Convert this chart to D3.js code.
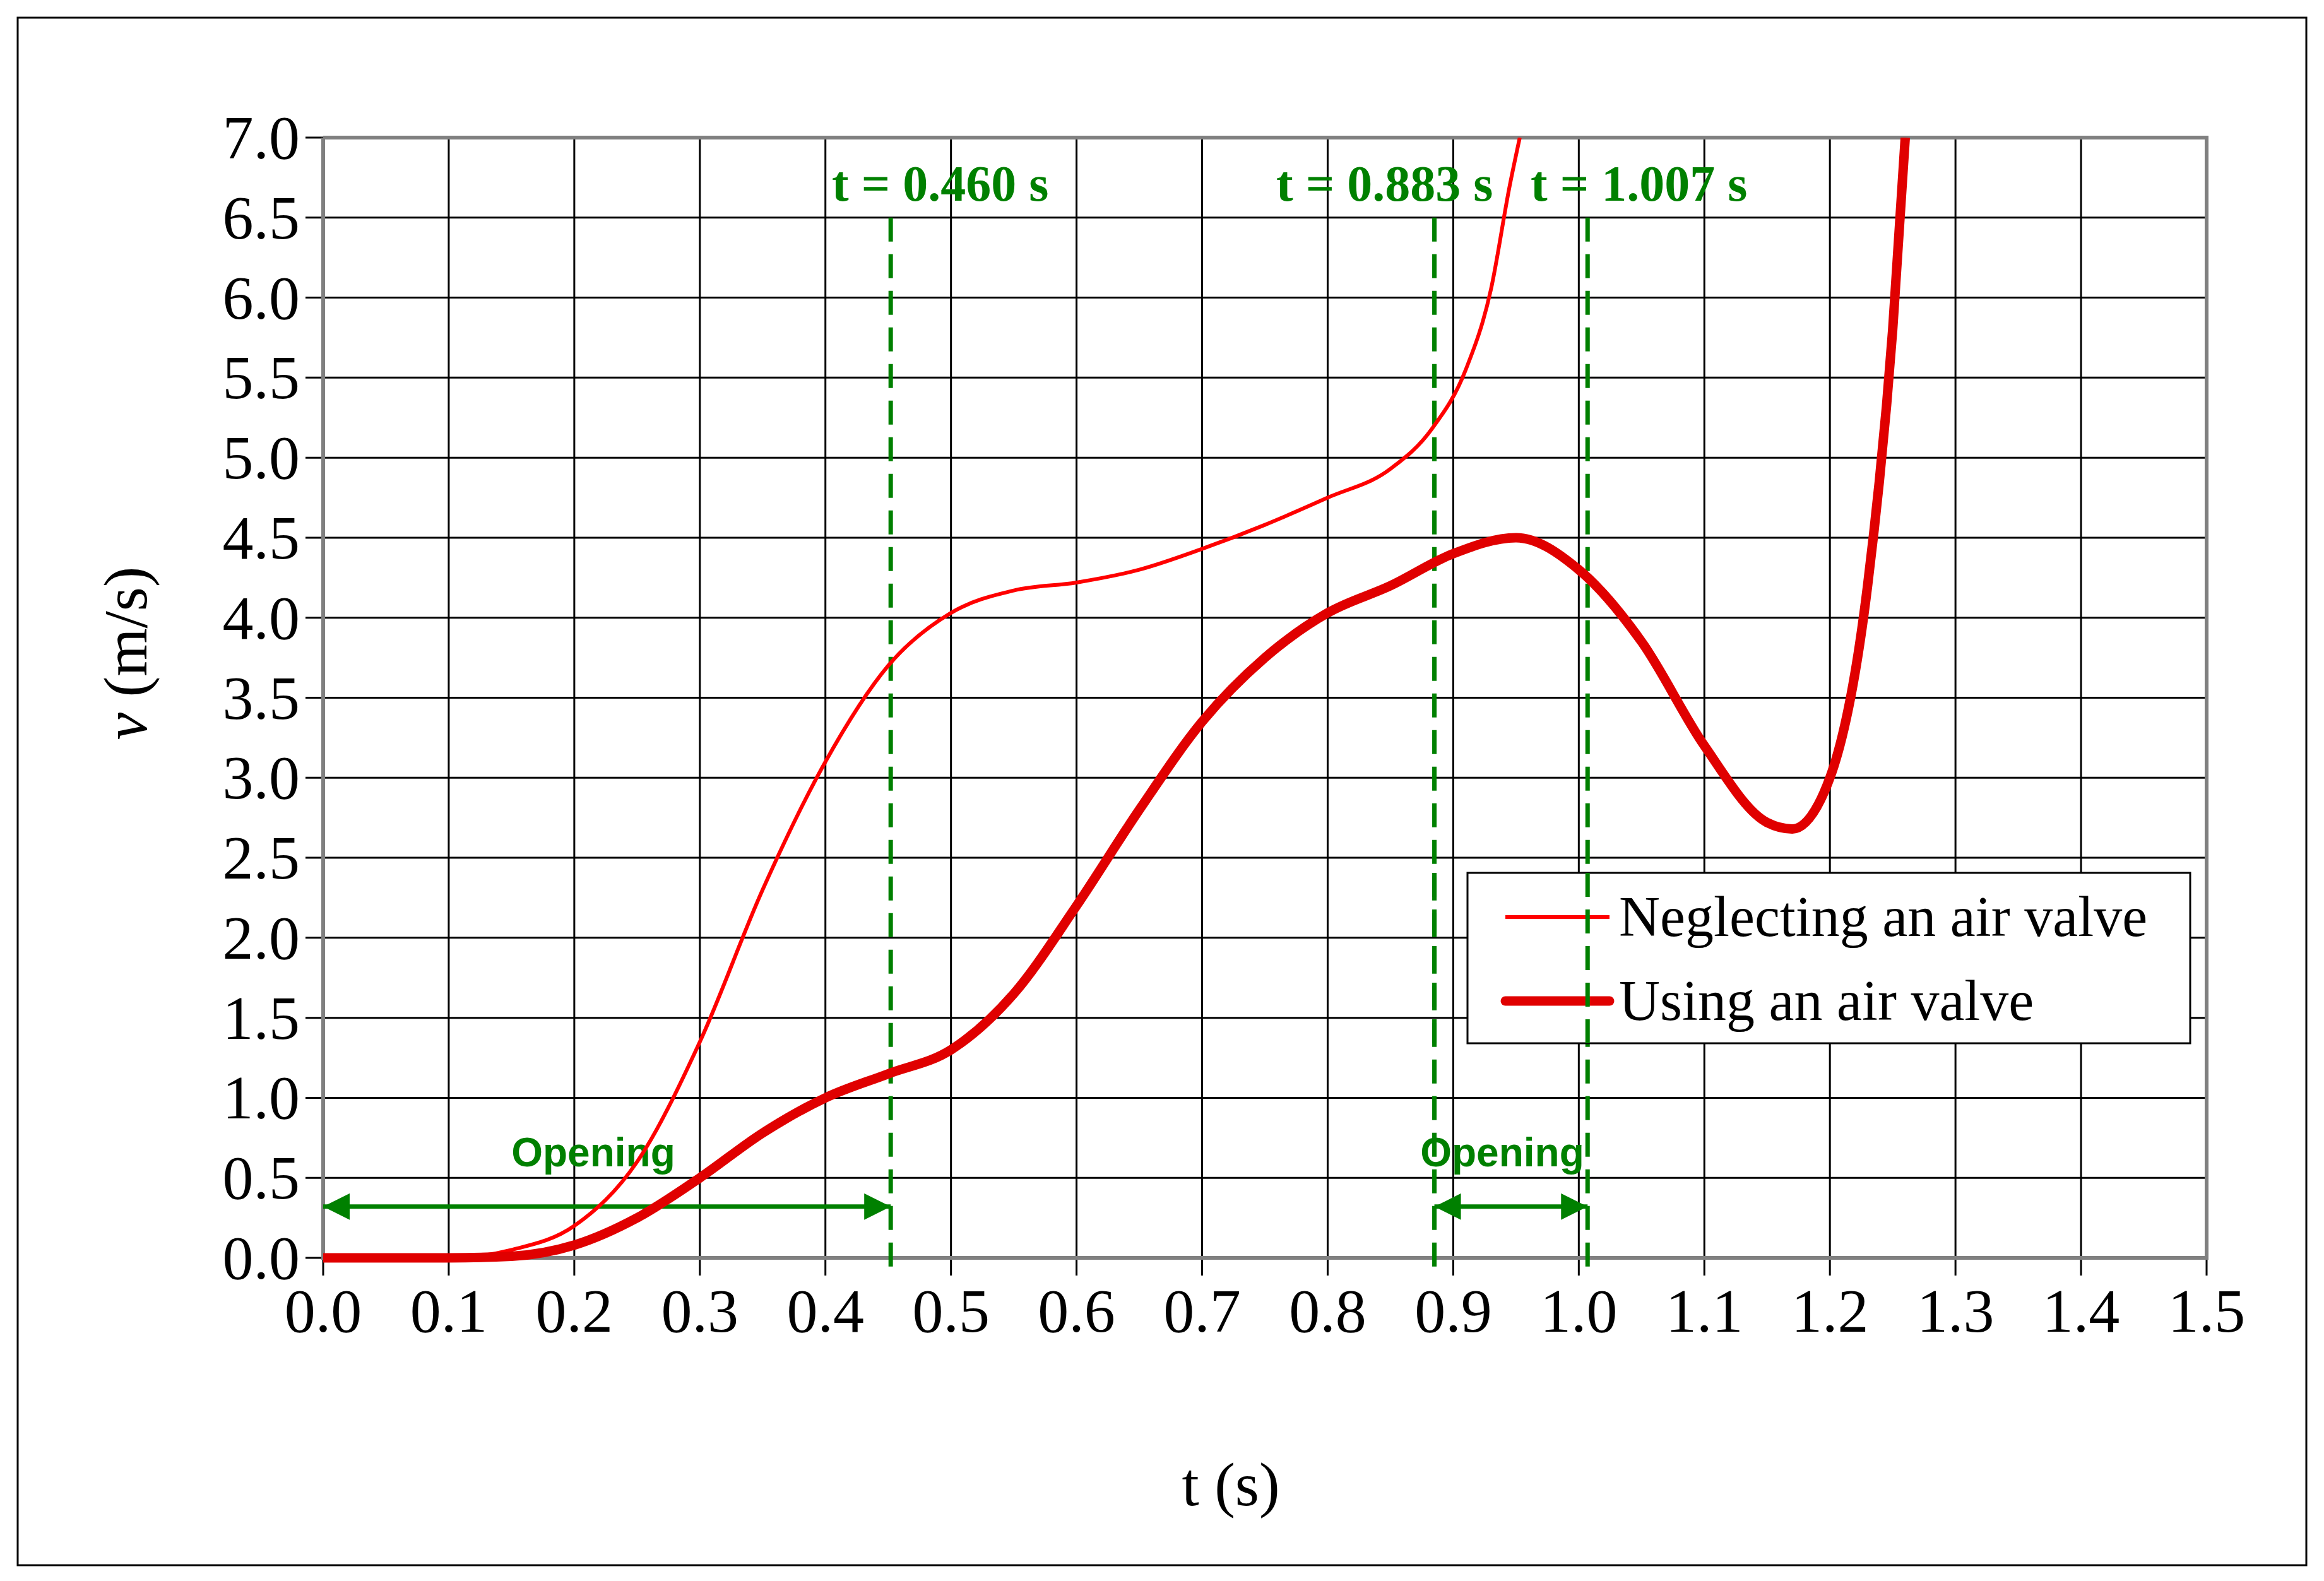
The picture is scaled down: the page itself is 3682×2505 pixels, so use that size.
<!DOCTYPE html><html><head><meta charset="utf-8">
<script src="https://cdn.jsdelivr.net/npm/d3@7"></script>
<style>body{margin:0;background:#fff}</style></head><body>
<svg id="c" width="3682" height="2505"></svg>
<script>
const xTicks=[0,0.1,0.2,0.3,0.4,0.5,0.6,0.7,0.8,0.9,1.0,1.1,1.2,1.3,1.4,1.5];
const yTicks=[0,0.5,1,1.5,2,2.5,3,3.5,4,4.5,5,5.5,6,6.5,7];
const neglectT=[0,0.1,0.15,0.2,0.25,0.3,0.35,0.4,0.45,0.5,0.55,0.6,0.65,0.7,0.75,0.8,0.85,0.883,0.91,0.93,0.945,0.953];
const neglectV=[0,0,0.05,0.2,0.6,1.35,2.3,3.1,3.7,4.03,4.17,4.22,4.3,4.43,4.58,4.75,4.93,5.18,5.55,6.05,6.7,7.0];
const usingT=[0,0.1,0.15,0.2,0.25,0.3,0.35,0.4,0.45,0.5,0.55,0.6,0.65,0.7,0.75,0.8,0.85,0.9,0.95,1.0,1.05,1.1,1.15,1.17,1.2,1.23,1.25,1.26];
const usingV=[0,0,0.01,0.08,0.25,0.5,0.78,1.0,1.15,1.3,1.65,2.2,2.8,3.35,3.75,4.03,4.2,4.4,4.5,4.3,3.85,3.2,2.72,2.68,3.0,4.2,5.8,7.0];
const markers=[{t:0.452,label:"t = 0.460 s"},{t:0.885,label:"t = 0.883 s"},{t:1.007,label:"t = 1.007 s"}];
const openings=[{a:0,b:0.452,v:0.32},{a:0.885,b:1.007,v:0.32}];

const svg=d3.select("#c");
const x=d3.scaleLinear().domain([0,1.5]).range([512,3496]);
const y=d3.scaleLinear().domain([0,7]).range([1993,218]);
const serif="'Liberation Serif','DejaVu Serif',serif";
svg.append("rect").attr("x",28).attr("y",28).attr("width",3626).attr("height",2452).attr("fill","none").attr("stroke","#000").attr("stroke-width",3);
const g=svg.append("g");
g.selectAll(".vg").data(xTicks).join("line").attr("x1",d=>x(d)).attr("x2",d=>x(d)).attr("y1",y(7)).attr("y2",y(0)+28).attr("stroke","#000").attr("stroke-width",3);
g.selectAll(".hg").data(yTicks).join("line").attr("x1",x(0)-28).attr("x2",x(1.5)).attr("y1",d=>y(d)).attr("y2",d=>y(d)).attr("stroke","#000").attr("stroke-width",3);
g.append("path").attr("d",`M${x(0)},${y(7)}H${x(1.5)}V${y(0)}H${x(0)}V${y(7)}`).attr("fill","none").attr("stroke","#808080").attr("stroke-width",6);
g.selectAll(".xl").data(xTicks).join("text").attr("x",d=>x(d)).attr("y",2110).attr("text-anchor","middle").attr("font-family",serif).attr("font-size",98).text(d=>d.toFixed(1));
g.selectAll(".yl").data(yTicks).join("text").attr("x",475).attr("y",d=>y(d)+33).attr("text-anchor","end").attr("font-family",serif).attr("font-size",98).text(d=>d.toFixed(1));
svg.append("text").attr("x",1950).attr("y",2385).attr("text-anchor","middle").attr("font-family",serif).attr("font-size",98).text("t (s)");
svg.append("text").attr("transform","translate(232,1035) rotate(-90)").attr("text-anchor","middle").attr("font-family",serif).attr("font-size",98)
 .html('<tspan font-style="italic">v</tspan> (m/s)');
const green="#008000";
markers.forEach(m=>{
 g.append("line").attr("x1",x(m.t)).attr("x2",x(m.t)).attr("y1",y(6.5)).attr("y2",y(0)+15).attr("stroke",green).attr("stroke-width",7).attr("stroke-dasharray","38,20");
});
const lbl=[1318,2022,2425];
markers.forEach((m,i)=>g.append("text").attr("x",lbl[i]).attr("y",318).attr("font-family",serif).attr("font-weight","bold").attr("font-size",80).attr("fill",green).text(m.label));
svg.append("defs").append("marker").attr("id","ah").attr("viewBox","0 0 10 10").attr("refX",10).attr("refY",5).attr("markerWidth",11).attr("markerHeight",6).attr("orient","auto-start-reverse").attr("markerUnits","strokeWidth")
 .append("path").attr("d","M0,0L10,5L0,10Z").attr("fill",green);
openings.forEach(o=>{
 g.append("line").attr("x1",x(o.a)).attr("x2",x(o.b)).attr("y1",y(o.v)).attr("y2",y(o.v)).attr("stroke",green).attr("stroke-width",7).attr("marker-start","url(#ah)").attr("marker-end","url(#ah)");
});
const opx=[940,2380];
opx.forEach(px=>g.append("text").attr("x",px).attr("y",1848).attr("text-anchor","middle").attr("font-family","'Liberation Sans',Arial,sans-serif").attr("font-weight","bold").attr("font-size",64).attr("fill",green).text("Opening"));
const line=d3.line().x(d=>x(d[0])).y(d=>y(d[1])).curve(d3.curveMonotoneX);
svg.append("clipPath").attr("id","pc").append("rect").attr("x",x(0)).attr("y",y(7)).attr("width",x(1.5)-x(0)).attr("height",y(0)-y(7)+20);
g.append("path").attr("d",line(neglectT.map((t,i)=>[t,neglectV[i]]))).attr("fill","none").attr("stroke","#ff0000").attr("stroke-width",6).attr("clip-path","url(#pc)");
g.append("path").attr("d",line(usingT.map((t,i)=>[t,usingV[i]]))).attr("fill","none").attr("stroke","#e00000").attr("stroke-width",15).attr("clip-path","url(#pc)");
const L=svg.append("g");
L.append("rect").attr("x",2325).attr("y",1383).attr("width",1145).attr("height",270).attr("fill","#fff").attr("stroke","#000").attr("stroke-width",3);
L.append("line").attr("x1",2385).attr("x2",2550).attr("y1",1453).attr("y2",1453).attr("stroke","#ff0000").attr("stroke-width",6);
L.append("line").attr("x1",2385).attr("x2",2550).attr("y1",1586).attr("y2",1586).attr("stroke","#e00000").attr("stroke-width",15).attr("stroke-linecap","round");
L.append("text").attr("x",2565).attr("y",1483).attr("font-family",serif).attr("font-size",90).text("Neglecting an air valve");
L.append("text").attr("x",2565).attr("y",1616).attr("font-family",serif).attr("font-size",90).text("Using an air valve");
markers.slice(1).forEach(m=>L.append("line").attr("x1",x(m.t)).attr("x2",x(m.t)).attr("y1",1383).attr("y2",1653).attr("stroke",green).attr("stroke-width",7).attr("stroke-dasharray","38,20"));
</script></body></html>
